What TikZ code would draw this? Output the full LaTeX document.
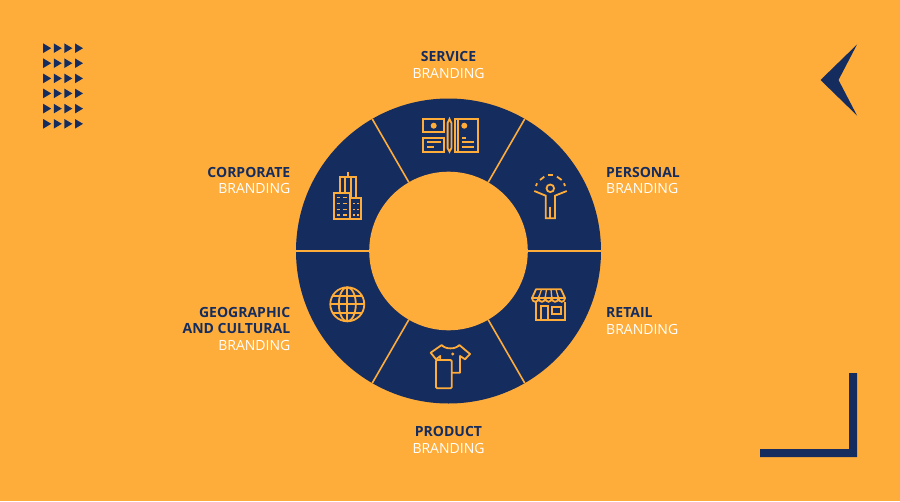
\documentclass[tikz,border=0pt]{standalone}
\usepackage{fontspec}
\usetikzlibrary{calc}
\setmainfont{Open Sans}
\definecolor{navy}{HTML}{152C5F}
\definecolor{amber}{HTML}{FFAD3A}
\tikzset{
  x=1pt,y=-1pt,
  ic/.style={draw=amber,line width=1.8pt,line join=miter,fill=none},
  dv/.style={draw=amber,line width=1.6pt},
  lab/.style={inner sep=0pt,font=\fontsize{14}{16.5}\selectfont,text=navy,align=center},
  labl/.style={lab,anchor=west,align=left},
  labr/.style={lab,anchor=east,align=right},
}
\newcommand{\hd}[1]{\textbf{#1}}
\newcommand{\sbt}[1]{\textcolor{white}{#1}}
\begin{document}
\begin{tikzpicture}
\useasboundingbox (0,0) rectangle (900,501);
\fill[amber] (0,0) rectangle (900,501);
% ring
\fill[navy] (448.5,251) circle[radius=152.5];
\fill[amber] (448.5,251) circle[radius=79.3];
\foreach \a in {0,60,...,300}
  \draw[dv] ($(448.5,251)+(\a:79.3)$) -- ($(448.5,251)+(\a:152.5)$);
% triangles
\foreach \y in {48.2,63.2,78.4,93.4,108.6,123.8}
  \foreach \x in {43.2,53.8,64.4,75}
    \fill[navy] (\x,\y-4.8) -- (\x+8,\y) -- (\x,\y+4.8) -- cycle;
% corner shapes
\fill[navy] (857,44.5) -- (820.5,80) -- (857,115.5) -- (838.5,80) -- cycle;
\fill[navy] (849,373) -- (857,373) -- (857,457) -- (760,457) -- (760,449) -- (849,449) -- cycle;
% service icon
\draw[ic] (423.3,119) rectangle (444.3,132.3);
\fill[amber] (433.7,125.7) circle[radius=3];
\draw[ic] (423.3,138) rectangle (444.3,151.7);
\draw[ic] (427.3,142.3) -- (440.7,142.3);
\draw[ic] (427.3,146.9) -- (434.3,146.9);
\draw[ic] (449.5,119) -- (451.4,123) -- (451.4,148) -- (449.5,151.7) -- (447.6,148) -- (447.6,123) -- cycle;
\draw[ic] (454.7,119) rectangle (478,151.7);
\draw[ic] (458.3,119) -- (458.3,151.7);
\fill[amber] (464.3,125.7) circle[radius=3];
\draw[ic] (461.7,138) -- (466,138);
\draw[ic] (461.7,142.3) -- (474,142.3);
\draw[ic] (461.7,146.9) -- (474,146.9);
% personal icon
\draw[ic] (550.3,188.3) circle[radius=3.8];
\draw[ic] (534.3,191) -- (545.7,195.7) -- (545.7,218.3) -- (555,218.3) -- (555,195.7) -- (566.7,191);
\draw[ic] (550.3,206.7) -- (550.3,218.3);
\draw[ic] (536,186) -- (537,183.3);
\draw[ic] (540,180) -- (544.3,176.7);
\draw[ic] (547.7,175.3) -- (553.3,175.3);
\draw[ic] (557,176.7) -- (561.7,180);
\draw[ic] (564,183.3) -- (565,186);
% retail icon
\draw[ic] (535.7,302) -- (535.7,320) -- (565,320) -- (565,302);
\draw[ic,line join=round] (536,289.3) -- (561,289.3) -- (565,298) -- (532,298) -- cycle;
\draw[ic] (532,298) arc[start angle=180,end angle=0,x radius=3.3,y radius=3.8]
  arc[start angle=180,end angle=0,x radius=3.3,y radius=3.8]
  arc[start angle=180,end angle=0,x radius=3.3,y radius=3.8]
  arc[start angle=180,end angle=0,x radius=3.3,y radius=3.8]
  arc[start angle=180,end angle=0,x radius=3.3,y radius=3.8];
\draw[ic,line width=1.3pt] (541.5,289.3) -- (538.6,298) (546.5,289.3) -- (545.2,298) (551,289.3) -- (551.8,298) (556,289.3) -- (558.4,298);
\draw[ic] (541,305.7) rectangle (548.3,320);
\draw[ic] (551.7,306.7) rectangle (560.7,314.3);
% product icon
\draw[ic,line join=round] (440.3,360) -- (440.3,356) -- (436,359.3) -- (430.7,352.7) -- (441.7,345)
  .. controls (445,349.5) and (456,349.5) .. (459.3,345)
  -- (470,354) -- (465,359.3) -- (460,356) -- (460,372.7) -- (451.7,372.7);
\fill[amber] (452.7,354) circle[radius=1.6];
\draw[ic,rounded corners=1.2pt] (436,360) rectangle (451.7,388.3);
% geographic icon
\draw[ic] (347.3,304.3) circle[radius=17];
\draw[ic] (347.3,304.3) ellipse[x radius=8.5,y radius=17];
\draw[ic] (347.3,287.3) -- (347.3,321.3);
\draw[ic] (330.3,304.3) -- (364.3,304.3);
\draw[ic] (332.6,295.8) -- (362,295.8);
\draw[ic] (332.6,312.8) -- (362,312.8);
% corporate icon
\draw[ic] (347.7,171.7) -- (347.7,176.7);
\draw[ic] (340,192.7) -- (340,176.7) -- (356,176.7) -- (356,198.3);
\draw[ic] (345,176.7) -- (345,192.5);
\draw[ic] (351,176.7) -- (351,198);
\draw[ic] (334,192.7) rectangle (350,219.3);
\draw[ic] (350,198.3) rectangle (361,219.3);
\foreach \y in {197.7,203.3,209.3,215}{
  \draw[ic,line width=1.5pt] (336.7,\y) -- (339.5,\y);
  \draw[ic,line width=1.5pt] (343.3,\y) -- (347.3,\y);
}
\foreach \y in {203.3,209.3,215}{
  \draw[ic,line width=1.5pt] (353.3,\y) -- (355,\y);
  \draw[ic,line width=1.5pt] (357.3,\y) -- (359,\y);
}
% labels
\node[lab] (service) at (448.5,64.9) {\hd{SERVICE}\\\sbt{BRANDING}};
\node[lab] (product) at (448.5,439.9) {\hd{PRODUCT}\\\sbt{BRANDING}};
\node[labl] (personal) at (606,180.4) {\hd{PERSONAL}\\\sbt{BRANDING}};
\node[labl] (retail) at (606,320.9) {\hd{RETAIL}\\\sbt{BRANDING}};
\node[labr] (corporate) at (290.5,180.4) {\hd{CORPORATE}\\\sbt{BRANDING}};
\node[labr] (geographic) at (290.5,328.7) {\hd{GEOGRAPHIC}\\\hd{AND CULTURAL}\\\sbt{BRANDING}};
\end{tikzpicture}
\end{document}
